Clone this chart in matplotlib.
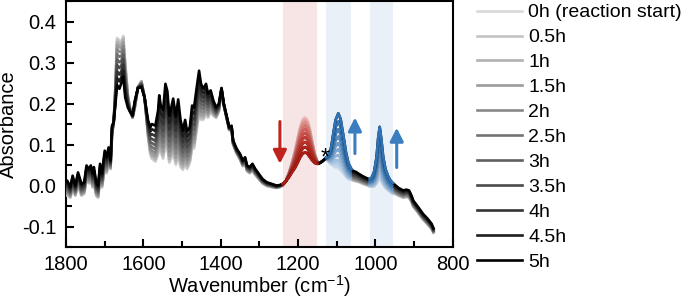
import numpy as np
import matplotlib
matplotlib.use("Agg")
import matplotlib.pyplot as plt
from matplotlib.ticker import MultipleLocator
from matplotlib.lines import Line2D

plt.rcParams['font.family'] = ['Liberation Sans', 'DejaVu Sans']
plt.rcParams['axes.unicode_minus'] = False

# wavenumber grid (cm-1)
wavenumber = [
    1800, 1797, 1789, 1783, 1776, 1769, 1760, 1753, 1747, 1741, 1736, 1731, 1728,
    1722, 1717, 1712, 1707, 1700, 1695, 1690, 1685, 1681, 1677, 1673, 1668, 1662,
    1657, 1652, 1647, 1640, 1634, 1628, 1622, 1614, 1605, 1597, 1588, 1582, 1578,
    1569, 1562, 1559, 1555, 1549, 1543, 1538, 1533, 1528, 1523, 1516, 1510, 1504,
    1498, 1492, 1487, 1480, 1474, 1469, 1462, 1456, 1451, 1445, 1438, 1433, 1426,
    1419, 1412, 1405, 1398, 1392, 1385, 1378, 1372, 1368, 1359, 1350, 1343, 1337,
    1332, 1325, 1318, 1311, 1302, 1292, 1281, 1268, 1256, 1248,
    1240, 1232, 1224, 1216, 1208, 1200, 1194, 1188, 1182, 1176, 1170, 1164, 1157, 1150,
    1145, 1139, 1133, 1128,
    1122, 1115, 1109, 1103, 1096, 1090, 1083, 1076, 1070, 1062,
    1058, 1050, 1042, 1035, 1027, 1020, 1015,
    1009, 1003, 997, 993, 989, 985, 980, 974, 967, 961, 955,
    950, 940, 928, 920, 913, 907, 902, 890, 877, 866, 855, 850,
]

# absorbance at 0h (reaction start)
absorb_0h = [
    -0.025, -0.022, -0.030, -0.008, -0.025, 0.000, -0.025, -0.020, 0.015, 0.005, 0.012, -0.005, 0.008,
    -0.025, -0.030, 0.015, -0.005, 0.040, 0.030, 0.060, 0.040, 0.125, 0.150, 0.230, 0.360, 0.355,
    0.350, 0.365, 0.300, 0.220, 0.185, 0.165, 0.190, 0.240, 0.255, 0.215, 0.120, 0.075, 0.065,
    0.058, 0.075, 0.095, 0.080, 0.065, 0.100, 0.090, 0.055, 0.065, 0.080, 0.050, 0.075, 0.045,
    0.038, 0.055, 0.040, 0.055, 0.090, 0.090, 0.135, 0.175, 0.160, 0.160, 0.175, 0.165, 0.180,
    0.170, 0.165, 0.180, 0.230, 0.195, 0.165, 0.135, 0.135, 0.100, 0.078, 0.063, 0.047, 0.053,
    0.035, 0.030, 0.036, 0.026, 0.016, 0.005, -0.001, -0.004, -0.006, -0.004,
    0.000, 0.010, 0.030, 0.055, 0.085, 0.120, 0.145, 0.162, 0.167, 0.160, 0.140, 0.110, 0.078, 0.058,
    0.056, 0.058, 0.062, 0.065,
    0.060, 0.052, 0.048, 0.044, 0.042, 0.038, 0.030, 0.022, 0.016, 0.014,
    0.012, 0.010, 0.008, 0.005, 0.002, 0.000, -0.002,
    -0.003, -0.002, 0.004, 0.012, 0.016, 0.010, 0.002, -0.006, -0.012, -0.016, -0.020,
    -0.020, -0.025, -0.030, -0.028, -0.030, -0.040, -0.052, -0.066, -0.083, -0.094, -0.106, -0.115,
]

# absorbance at 5h
absorb_5h = [
    0.010, 0.012, -0.004, 0.024, 0.000, 0.032, 0.004, 0.008, 0.049, 0.040, 0.049, 0.029, 0.045,
    0.008, 0.000, 0.053, 0.029, 0.085, 0.069, 0.093, 0.061, 0.146, 0.154, 0.191, 0.245, 0.236,
    0.250, 0.266, 0.215, 0.190, 0.179, 0.171, 0.207, 0.238, 0.240, 0.215, 0.159, 0.142, 0.150,
    0.146, 0.183, 0.220, 0.195, 0.183, 0.248, 0.230, 0.170, 0.190, 0.212, 0.168, 0.210, 0.160,
    0.134, 0.160, 0.132, 0.142, 0.195, 0.190, 0.240, 0.280, 0.248, 0.236, 0.248, 0.224, 0.232,
    0.207, 0.191, 0.199, 0.238, 0.199, 0.171, 0.142, 0.146, 0.110, 0.090, 0.077, 0.061, 0.069,
    0.049, 0.045, 0.053, 0.041, 0.029, 0.016, 0.008, 0.004, 0.000, 0.001,
    0.004, 0.010, 0.020, 0.032, 0.043, 0.058, 0.070, 0.078, 0.081, 0.078, 0.070, 0.062, 0.055, 0.053,
    0.054, 0.058, 0.063, 0.068,
    0.073, 0.090, 0.126, 0.160, 0.176, 0.162, 0.122, 0.080, 0.055, 0.040,
    0.036, 0.033, 0.028, 0.024, 0.020, 0.017, 0.016,
    0.020, 0.035, 0.070, 0.115, 0.143, 0.115, 0.070, 0.040, 0.022, 0.012, 0.006,
    0.002, -0.006, -0.012, -0.010, -0.012, -0.024, -0.037, -0.052, -0.069, -0.080, -0.093, -0.104,
]

times = ['0h (reaction start)', '0.5h', '1h', '1.5h', '2h', '2.5h', '3h', '3.5h', '4h', '4.5h', '5h']
# height of the 1096 cm-1 band for each time
band_1096 = [0.042, 0.046, 0.053, 0.062, 0.074, 0.088, 0.103, 0.119, 0.137, 0.156, 0.176]

grays = ['#d9d9d9', '#c4c4c4', '#b0b0b0', '#9c9c9c', '#888888', '#747474',
         '#606060', '#4a4a4a', '#343434', '#1e1e1e', '#000000']
reds = ['#f5cdcb', '#f0b6b3', '#eaa09c', '#e38a85', '#dc746e', '#d45f58',
        '#cc4b43', '#c53a32', '#bd2c24', '#b52219', '#b01c14']
blues = ['#d3e3f3', '#c2d8ef', '#b0cdea', '#9ec1e4', '#8bb5de', '#78a9d8',
         '#659dd2', '#528fca', '#4283c3', '#3679bc', '#2e73b7']

wn = np.array(wavenumber)
a0 = np.array(absorb_0h)
a5 = np.array(absorb_5h)

FS = 14.5

fig = plt.figure(figsize=(6.85, 2.98), dpi=100)
ax = fig.add_axes([0.0964, 0.171, 0.5646, 0.8256])

ax.axvspan(1150, 1240, color='#f7e4e4', lw=0, zorder=0)
ax.axvspan(1062, 1128, color='#eaf0f8', lw=0, zorder=0)
ax.axvspan(955, 1015, color='#eaf0f8', lw=0, zorder=0)

red_mask = (wn <= 1240) & (wn >= 1150)
blue1_mask = (wn <= 1128) & (wn >= 1062)
blue2_mask = (wn <= 1015) & (wn >= 955)

handles = []
for i, t in enumerate(times):
    f = (band_1096[i] - band_1096[0]) / (band_1096[-1] - band_1096[0])
    y = a0 + (a5 - a0) * f
    z = 2 + i
    ax.plot(wn, y, color=grays[i], lw=1.9, zorder=z, solid_joinstyle='round')
    ax.plot(wn[red_mask], y[red_mask], color=reds[i], lw=1.9, zorder=z)
    ax.plot(wn[blue1_mask], y[blue1_mask], color=blues[i], lw=1.9, zorder=z)
    ax.plot(wn[blue2_mask], y[blue2_mask], color=blues[i], lw=1.9, zorder=z)
    handles.append(Line2D([], [], color=grays[i], lw=1.9, label=t))

# arrows and asterisk
ax.annotate('', xy=(1247, 0.053), xytext=(1247, 0.156),
            arrowprops=dict(arrowstyle='-|>', color='#c0231e', lw=2.2, mutation_scale=20,
                            shrinkA=0, shrinkB=0), zorder=20)
ax.annotate('', xy=(1053, 0.166), xytext=(1053, 0.078),
            arrowprops=dict(arrowstyle='-|>', color='#3a7ebf', lw=2.2, mutation_scale=20,
                            shrinkA=0, shrinkB=0), zorder=20)
ax.annotate('', xy=(945, 0.141), xytext=(945, 0.044),
            arrowprops=dict(arrowstyle='-|>', color='#3a7ebf', lw=2.2, mutation_scale=20,
                            shrinkA=0, shrinkB=0), zorder=20)
ax.text(1131, 0.066, '*', fontsize=17, ha='center', va='center', zorder=20)

ax.set_xlim(1800, 800)
ax.set_ylim(-0.15, 0.45)
ax.xaxis.set_major_locator(MultipleLocator(200))
ax.xaxis.set_minor_locator(MultipleLocator(100))
ax.yaxis.set_major_locator(MultipleLocator(0.1))
ax.yaxis.set_minor_locator(MultipleLocator(0.05))
ax.yaxis.set_major_formatter(matplotlib.ticker.FormatStrFormatter('%.1f'))
ax.tick_params(which='both', direction='in', width=1.5, labelsize=FS)
ax.tick_params(which='major', length=6)
ax.tick_params(which='minor', length=4)
ax.tick_params(axis='y', pad=7)
ax.tick_params(axis='x', pad=6)
for s in ax.spines.values():
    s.set_linewidth(1.5)

ax.set_xlabel('Wavenumber (cm$\\mathregular{^{-1}}$)', fontsize=FS, labelpad=-1)
ax.set_ylabel('Absorbance', fontsize=FS, labelpad=3)

fig.legend(handles=handles, loc='upper left', bbox_to_anchor=(0.697, 0.987),
           frameon=False, fontsize=14, handlelength=2.3, handletextpad=0.3,
           labelspacing=0.375, borderpad=0, borderaxespad=0)

fig.savefig('out.png', dpi=100)
